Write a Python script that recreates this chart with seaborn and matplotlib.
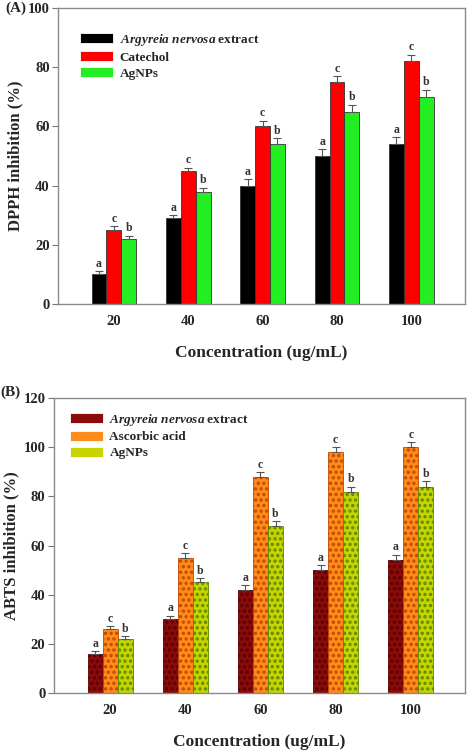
import matplotlib
matplotlib.use("Agg")
import matplotlib.pyplot as plt
import seaborn as sns
import pandas as pd
import numpy as np

concentrations = ["20", "40", "60", "80", "100"]

dpph_series = ["Argyreia nervosa extract", "Catechol", "AgNPs"]
dpph_extract = [10, 29, 40, 50, 54]
dpph_catechol = [25, 45, 60, 75, 82]
dpph_agnps = [22, 38, 54, 65, 70]
dpph_extract_err = [1.0, 1.0, 2.2, 2.3, 2.3]
dpph_catechol_err = [1.2, 1.0, 2.0, 2.0, 2.3]
dpph_agnps_err = [1.0, 1.2, 2.0, 2.3, 2.5]

abts_series = ["Argyreia nervosa extract", "Ascorbic acid", "AgNPs"]
abts_extract = [16, 30, 42, 50, 54]
abts_ascorbic = [26, 55, 88, 98, 100]
abts_agnps = [22, 45, 68, 82, 84]
abts_extract_err = [1.0, 1.5, 2.0, 2.0, 2.3]
abts_ascorbic_err = [1.2, 2.0, 2.0, 2.0, 2.0]
abts_agnps_err = [1.2, 1.8, 2.0, 2.0, 2.3]

letters = ["a", "c", "b"]

sns.set_style("ticks")
plt.rcParams["font.family"] = ["Liberation Serif", "DejaVu Serif"]
plt.rcParams["font.weight"] = "bold"
plt.rcParams["axes.labelweight"] = "bold"
plt.rcParams["hatch.linewidth"] = 1.6
plt.rcParams["mathtext.fontset"] = "custom"
plt.rcParams["mathtext.it"] = "Liberation Serif:italic:bold"
plt.rcParams["mathtext.rm"] = "Liberation Serif:bold"
plt.rcParams["mathtext.bf"] = "Liberation Serif:bold"

fig = plt.figure(figsize=(4.72, 7.52), dpi=100)
ax1 = fig.add_axes([0.123, 0.596, 0.862, 0.393])
ax2 = fig.add_axes([0.114, 0.0785, 0.871, 0.392])


def make_df(series, vals):
    rows = []
    for s, v in zip(series, vals):
        for c, y in zip(concentrations, v):
            rows.append({"conc": c, "series": s, "value": y})
    return pd.DataFrame(rows)


def panel(ax, series, vals, errs, colors, hatches, hatchcols, ymax, ylabel, tag, leg_anchor):
    df = make_df(series, vals)
    sns.barplot(data=df, x="conc", y="value", hue="series", order=concentrations,
                hue_order=series, palette=colors, width=0.6, errorbar=None,
                ax=ax, saturation=1, linewidth=0.6)
    for cont, err, h, hc, lt in zip(ax.containers, errs, hatches, hatchcols, letters):
        xs, ys = [], []
        for p in cont.patches:
            p.set_edgecolor(hc)
            if h:
                p.set_hatch(h)
            xs.append(p.get_x() + p.get_width() / 2)
            ys.append(p.get_height())
        xs = np.array(xs)
        ys = np.array(ys)
        e = np.array(err)
        ax.errorbar(xs, ys, yerr=[np.zeros_like(e), e], fmt="none",
                    ecolor="#555555", elinewidth=0.8, capsize=3, capthick=0.8)
        for x, y, ee in zip(xs, ys, e):
            ax.text(x, y + ee + 0.5, lt, ha="center", va="bottom",
                    fontsize=8.5, fontweight="bold", color="#333333")
    ax.set_xlim(-0.75, 4.72)
    ax.set_ylim(0, ymax)
    ax.set_yticks(range(0, ymax + 1, 20))
    ax.set_xlabel("Concentration (ug/mL)", fontsize=12.5, fontweight="bold", labelpad=12)
    ax.set_ylabel(ylabel, fontsize=12, fontweight="bold", labelpad=3)
    ax.tick_params(axis="both", labelsize=10.5, direction="out", length=4,
                   color="#777777", top=False, right=False)
    ax.tick_params(axis="y", pad=2)
    ax.tick_params(axis="x", length=0, pad=8)
    for lab in ax.get_xticklabels() + ax.get_yticklabels():
        lab.set_fontweight("bold")
    for sp in ax.spines.values():
        sp.set_visible(True)
        sp.set_color("#8a8a8a")
        sp.set_linewidth(1.0)
    handles, labels_ = ax.get_legend_handles_labels()
    labels_ = [r"$\it{Argyreia\ nervosa}$ extract"] + labels_[1:]
    leg = ax.legend(handles, labels_, loc="upper left", bbox_to_anchor=leg_anchor,
                    frameon=False, fontsize=9.5, handlelength=2.5, handleheight=0.8,
                    labelspacing=0.25, handletextpad=0.5)
    for t in leg.get_texts():
        t.set_fontweight("bold")
    ax.text(-0.13, 1.0 if tag == "(A)" else 1.02, tag, transform=ax.transAxes,
            fontsize=11, fontweight="bold", ha="left", va="center")


panel(ax1, dpph_series, [dpph_extract, dpph_catechol, dpph_agnps],
      [dpph_extract_err, dpph_catechol_err, dpph_agnps_err],
      ["#000000", "#ff0000", "#22ee22"], [None, None, None],
      ["#333333", "#333333", "#333333"], 100, "DPPH inhibition (%)", "(A)",
      (0.025, 0.96))

panel(ax2, abts_series, [abts_extract, abts_ascorbic, abts_agnps],
      [abts_extract_err, abts_ascorbic_err, abts_agnps_err],
      ["#8b0a0a", "#ff8c1a", "#c8d400"], ["...", "...", "..."],
      ["#5a0000", "#c04800", "#5a8a00"], 120, "ABTS inhibition (%)", "(B)",
      (0.01, 0.995))

fig.savefig("out.png", dpi=100)
